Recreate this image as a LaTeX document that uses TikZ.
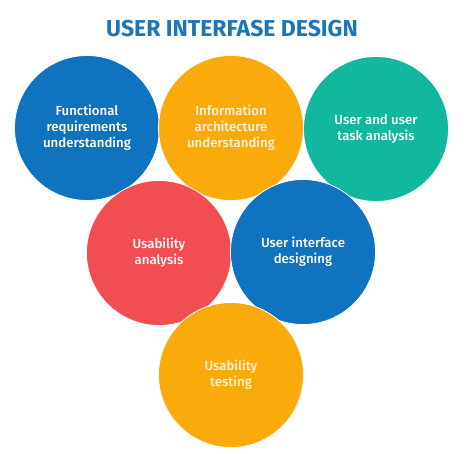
\documentclass[tikz,border=0pt]{standalone}
\usepackage{fontspec}
\setmainfont{Fira Sans}
\newfontfamily\medfont{Fira Sans Medium}
\definecolor{cblue}{HTML}{0F73BF}
\definecolor{corange}{HTML}{FAAA0A}
\definecolor{cteal}{HTML}{12B89D}
\definecolor{cred}{HTML}{F24D50}
\definecolor{ctitle}{HTML}{1B75BC}
\definecolor{ccream}{HTML}{FFF3DC}
\tikzset{
  bubble/.style={circle, minimum size=145pt, inner sep=0pt, draw=white, line width=0.8pt,
    text=white, align=center, font=\medfont\fontsize{13.2}{16}\selectfont},
  titletext/.style={font=\bfseries\fontsize{23}{26}\selectfont, text=ctitle}
}
\begin{document}
\begin{tikzpicture}[x=1pt,y=-1pt]
\useasboundingbox (0,0) rectangle (474,454);
\node[titletext] (title) at (232,29) {USER INTERFASE DESIGN};
\node[bubble, fill=cblue] (func) at (87,128) {Functional\\requirements\\understanding};
\node[bubble, fill=corange, text=ccream] (info) at (231,128) {\raisebox{4pt}{\begin{tabular}{@{}c@{}}Information\\architecture\\understanding\end{tabular}}};
\node[bubble, fill=cteal] (user) at (376,129) {User and user\\task analysis};
\node[bubble, fill=cred] (uan) at (159,253) {Usability\\analysis};
\node[bubble, fill=cblue] (uid) at (303,252) {User interface\\designing};
\node[bubble, fill=corange, text=ccream] (test) at (231,375) {Usability\\testing};
\end{tikzpicture}
\end{document}
